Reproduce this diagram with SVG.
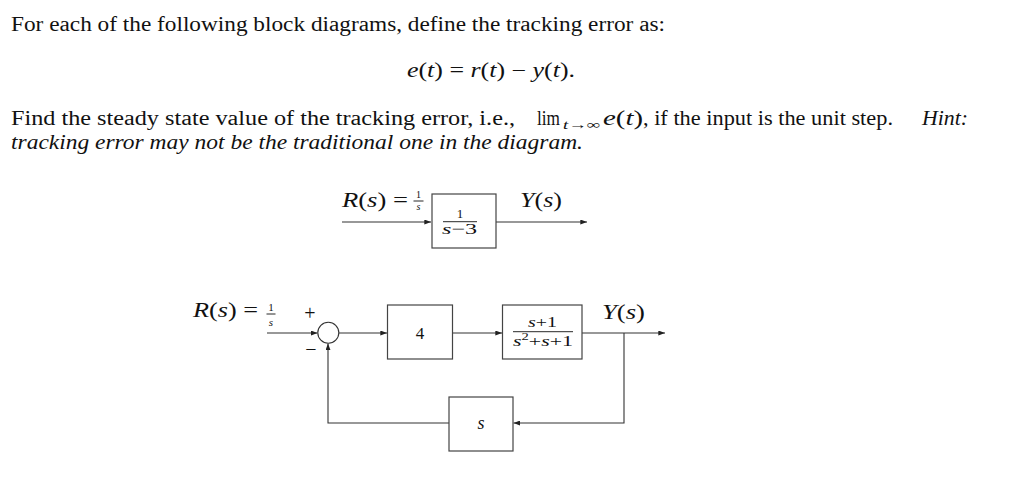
<svg xmlns="http://www.w3.org/2000/svg" width="1024" height="482" viewBox="0 0 1024 482">
<style>
text{font-family:"Liberation Serif","DejaVu Serif",serif;fill:#111}
.t{font-size:20px}
.it{font-style:italic}
.m{font-size:20px}
.f{font-size:15px}
.ln{stroke:#333;stroke-width:1.1;fill:none}
.bx{stroke:#444;stroke-width:1.2;fill:#fff}
.bar{stroke:#111;stroke-width:0.9}
</style>
<defs>
<marker id="ar" viewBox="0 0 8 6" refX="8" refY="3" markerWidth="7" markerHeight="5" markerUnits="userSpaceOnUse" orient="auto">
<path d="M0,0 L8,3 L0,6 z" fill="#222"/>
</marker>
</defs>
<rect width="1024" height="482" fill="#fff"/>

<g id="text">
<text class="t" x="11" y="31" textLength="654" lengthAdjust="spacingAndGlyphs">For each of the following block diagrams, define the tracking error as:</text>
<text class="m" x="407" y="77" textLength="168" lengthAdjust="spacingAndGlyphs"><tspan class="it">e</tspan>(<tspan class="it">t</tspan>) = <tspan class="it">r</tspan>(<tspan class="it">t</tspan>) − <tspan class="it">y</tspan>(<tspan class="it">t</tspan>).</text>
<text class="t" x="11" y="125" textLength="504" lengthAdjust="spacingAndGlyphs">Find the steady state value of the tracking error, i.e.,</text>
<text class="t" x="537" y="125" textLength="23" lengthAdjust="spacingAndGlyphs">lim</text>
<text class="it" x="563" y="129" font-size="13" textLength="37" lengthAdjust="spacingAndGlyphs">t→∞</text>
<text class="t" x="603" y="125" textLength="40" lengthAdjust="spacingAndGlyphs"><tspan class="it">e</tspan>(<tspan class="it">t</tspan>)</text>
<text class="t" x="643" y="125" textLength="250" lengthAdjust="spacingAndGlyphs">, if the input is the unit step.</text>
<text class="t it" x="922" y="125" textLength="46" lengthAdjust="spacingAndGlyphs">Hint:</text>
<text class="t it" x="11" y="149" textLength="572" lengthAdjust="spacingAndGlyphs">tracking error may not be the traditional one in the diagram.</text>
</g>

<g id="connectors">
<line class="ln" x1="342" y1="222" x2="431" y2="222" marker-end="url(#ar)"/>
<line class="ln" x1="496" y1="222" x2="587" y2="222" marker-end="url(#ar)"/>
<line class="ln" x1="267" y1="333" x2="317.5" y2="333" marker-end="url(#ar)"/>
<line class="ln" x1="339" y1="333" x2="387" y2="333" marker-end="url(#ar)"/>
<line class="ln" x1="453" y1="333" x2="502" y2="333" marker-end="url(#ar)"/>
<line class="ln" x1="582" y1="333" x2="665" y2="333" marker-end="url(#ar)"/>
<polyline class="ln" points="624,333 624,423 513.5,423" marker-end="url(#ar)"/>
<polyline class="ln" points="449,423 328,423 328,343.5" marker-end="url(#ar)"/>
</g>

<g id="top-labels">
<text class="m" x="342" y="207" textLength="66" lengthAdjust="spacingAndGlyphs"><tspan class="it">R</tspan>(<tspan class="it">s</tspan>) =</text>
<text x="418.5" y="198" font-size="10" text-anchor="middle">1</text>
<line class="bar" x1="413.5" y1="201" x2="423.5" y2="201"/>
<text class="it" x="418.5" y="209.5" font-size="10" text-anchor="middle">s</text>
<text class="m" x="520" y="207" textLength="42" lengthAdjust="spacingAndGlyphs"><tspan class="it">Y</tspan>(<tspan class="it">s</tspan>)</text>
</g>

<g id="node-top">
<rect class="bx" x="432" y="194" width="64" height="54"/>
<text x="460" y="218" font-size="13" text-anchor="middle">1</text>
<line class="bar" x1="443" y1="221.7" x2="477" y2="221.7"/>
<text class="f" x="442" y="234" textLength="35" lengthAdjust="spacingAndGlyphs"><tspan class="it">s</tspan>−3</text>
</g>

<g id="sum">
<circle cx="328.3" cy="332.8" r="10.5" fill="#fff" stroke="#333" stroke-width="1.1"/>
<text x="310" y="320" font-size="20" text-anchor="middle">+</text>
<text x="311" y="356" font-size="20" text-anchor="middle">−</text>
</g>

<g id="bottom-labels">
<text class="m" x="193" y="317" textLength="65" lengthAdjust="spacingAndGlyphs"><tspan class="it">R</tspan>(<tspan class="it">s</tspan>) =</text>
<text x="271" y="311" font-size="11" text-anchor="middle">1</text>
<line class="bar" x1="266.5" y1="314" x2="275.5" y2="314"/>
<text class="it" x="271" y="326" font-size="11" text-anchor="middle">s</text>
<text class="m" x="602" y="319" textLength="43" lengthAdjust="spacingAndGlyphs"><tspan class="it">Y</tspan>(<tspan class="it">s</tspan>)</text>
</g>

<g id="node-gain">
<rect class="bx" x="387.5" y="305" width="65" height="54"/>
<text x="420" y="339" font-size="17" text-anchor="middle">4</text>
</g>

<g id="node-plant">
<rect class="bx" x="502.5" y="305" width="79.5" height="54"/>
<text class="f" x="528" y="326.5" textLength="29" lengthAdjust="spacingAndGlyphs"><tspan class="it">s</tspan>+1</text>
<line class="bar" x1="513" y1="331.7" x2="573" y2="331.7"/>
<text class="f" x="513" y="346" textLength="60" lengthAdjust="spacingAndGlyphs"><tspan class="it">s</tspan><tspan font-size="10" dy="-6">2</tspan><tspan dy="6">+</tspan><tspan class="it">s</tspan>+1</text>
</g>

<g id="node-feedback">
<rect class="bx" x="449" y="397" width="64" height="54"/>
<text class="it" x="481" y="429" font-size="18" text-anchor="middle">s</text>
</g>
</svg>
